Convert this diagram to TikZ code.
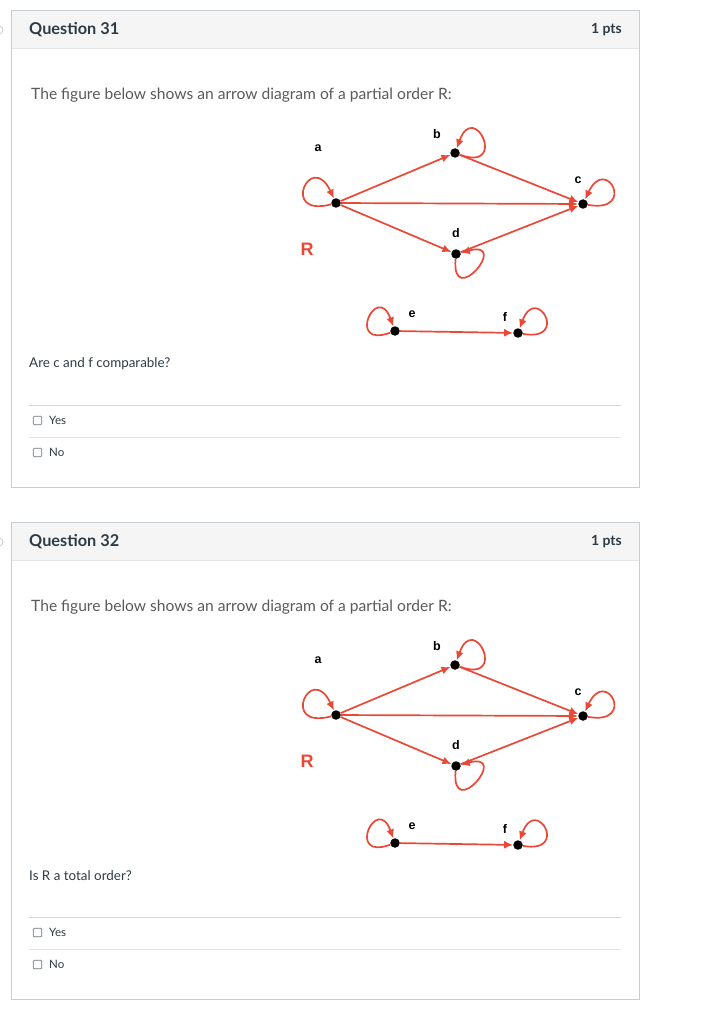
\documentclass[tikz,border=0pt]{standalone}
\usepackage{fontspec}
\setmainfont{Lato}
\newfontfamily\arialfont{Liberation Sans}
\usetikzlibrary{arrows.meta}

\definecolor{edgered}{RGB}{234,72,55}
\definecolor{boxline}{RGB}{199,205,209}
\definecolor{headbg}{RGB}{245,245,245}
\definecolor{sepline}{RGB}{226,228,230}
\definecolor{textdark}{RGB}{45,59,69}
\definecolor{textgray}{RGB}{90,90,90}

\tikzset{
  vertex/.style={circle, fill=black, inner sep=0pt, minimum size=9.5pt},
  vlabel/.style={font=\arialfont\bfseries\fontsize{12.5}{12.5}\selectfont},
  edge/.style={edgered, line width=1.7pt, -{Latex[length=9pt,width=8pt]}},
  selfloop/.style={edge, looseness=1, min distance=#1},
  qtitle/.style={anchor=west, inner sep=0pt, text=textdark, font=\bfseries\fontsize{16.3}{19}\selectfont},
  qtext/.style={anchor=west, inner sep=0pt, text=textdark, font=\fontsize{13.4}{16}\selectfont},
  answer/.style={anchor=west, inner sep=0pt, text=textdark, font=\fontsize{11.5}{13}\selectfont},
  checkbox/.style={draw=textdark!70, line width=0.7pt, rounded corners=1pt, minimum size=8.5pt, inner sep=0pt}
}

\begin{document}
\begin{tikzpicture}[x=1pt, y=-1pt]
  \useasboundingbox (0,0) rectangle (704,1024);

  \foreach \q/\dy/\ask in {31/0/{Are c and f comparable?}, 32/512/{Is R a total order?}} {
  \begin{scope}[shift={(0,\dy)}]
    % side marker, cut by the page edge
    \draw[boxline, line width=0.8pt] (-1,30) circle (4);

    % question box with its header band
    \fill[headbg] (11,10) rectangle (639,48);
    \draw[sepline, line width=0.8pt] (11,48) -- (639,48);
    \draw[boxline, line width=0.8pt] (11,10) rectangle (639,487);
    \node[qtitle] (title\q) at (29,30) {Question \q};
    \node[qtitle, anchor=east, font=\bfseries\fontsize{14}{16}\selectfont] (pts\q) at (622,30) {1 pts};

    \node[anchor=west, inner sep=0pt, text=textgray, font=\fontsize{15.6}{18}\selectfont] (intro\q) at (31,95)
      {The figure below shows an arrow diagram of a partial order R:};

    % vertices
    \node[vertex] (a\q) at (336,203) {};
    \node[vertex] (b\q) at (455,153) {};
    \node[vertex] (c\q) at (583,204) {};
    \node[vertex] (d\q) at (456,254) {};
    \node[vertex] (e\q) at (395,331) {};
    \node[vertex] (f\q) at (518,333) {};

    % vertex labels
    \node[vlabel] (la\q) at (318,148) {a};
    \node[vlabel] (lb\q) at (437,134) {b};
    \node[vlabel] (lc\q) at (578,180) {c};
    \node[vlabel] (ld\q) at (456,233) {d};
    \node[vlabel] (le\q) at (412,314) {e};
    \node[vlabel] (lf\q) at (505,317) {f};
    \node[text=edgered, font=\arialfont\bfseries\fontsize{18}{18}\selectfont] (R\q) at (307,249) {R};

    % relation arrows
    \draw[edge] (a\q) -- (b\q);
    \draw[edge] (a\q) -- (c\q);
    \draw[edge] (a\q) -- (d\q);
    \draw[edge] (b\q) -- (c\q);
    \draw[edge] (d\q) -- (c\q);
    \draw[edge] (e\q) -- (f\q);

    % reflexive loops
    \draw[selfloop=54pt] (a\q) to[out=195, in=115] (a\q);
    \draw[selfloop=52pt] (b\q) to[out=-20, in=70] (b\q);
    \draw[selfloop=50pt] (c\q) to[out=-10, in=65] (c\q);
    \draw[selfloop=52pt] (d\q) to[out=265, in=15] (d\q);
    \draw[selfloop=48pt] (e\q) to[out=200, in=110] (e\q);
    \draw[selfloop=48pt] (f\q) to[out=-10, in=70] (f\q);

    % question and answers
    \node[qtext] (ask\q) at (29,364) {\ask};
    \draw[boxline!80, line width=0.6pt] (29,405) -- (621,405);
    \node[checkbox] (yesbox\q) at (37.5,420.5) {};
    \node[answer] (yes\q) at (49,420) {Yes};
    \draw[sepline, line width=0.6pt] (29,437) -- (621,437);
    \node[checkbox] (nobox\q) at (37.5,452.5) {};
    \node[answer] (no\q) at (49,452) {No};
  \end{scope}
  }
\end{tikzpicture}
\end{document}
